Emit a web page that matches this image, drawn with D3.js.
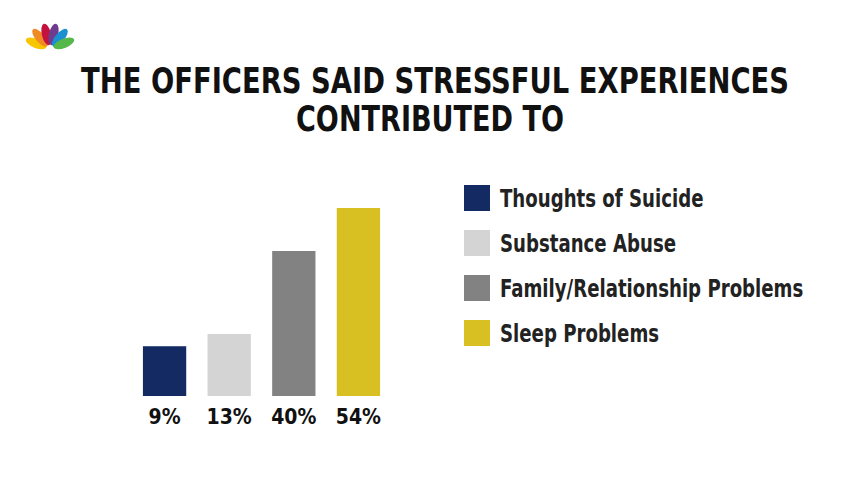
<!DOCTYPE html>
<html>
<head>
<meta charset="utf-8" />
<script src="https://cdn.jsdelivr.net/npm/d3@7"></script>
<style>
  body { margin: 0; background: #fff; }
  text { font-family: "DejaVu Sans Condensed", "DejaVu Sans", sans-serif; }
</style>
</head>
<body>
<script>
  var categories = ["Thoughts of Suicide", "Substance Abuse", "Family/Relationship Problems", "Sleep Problems"];
  var values = [9, 13, 40, 54];
  var colors = ["#132a63", "#d4d4d4", "#828282", "#d8bf22"];
  var titleLines = ["THE OFFICERS SAID STRESSFUL EXPERIENCES", "CONTRIBUTED TO"];

  var width = 850, height = 478;
  var svg = d3.select("body").append("svg")
      .attr("width", width).attr("height", height);

  // peacock logo
  var petals = ["#f7c600", "#f08a24", "#c4123f", "#6e3c8f", "#1b8fcf", "#55b848"];
  var logo = svg.append("g").attr("transform", "translate(50,49)");
  petals.forEach(function(c, i) {
    var a = -68 + i * 27.2;
    logo.append("ellipse")
        .attr("cx", 0).attr("cy", -15).attr("rx", 4.6).attr("ry", 11)
        .attr("fill", c)
        .attr("transform", "rotate(" + a + ")");
  });

  // title
  var title = svg.append("text")
      .attr("text-anchor", "middle")
      .attr("font-weight", "bold")
      .attr("font-size", 36)
      .attr("fill", "#111");
  title.append("tspan").attr("x", 435).attr("y", 93).attr("textLength", 708)
      .attr("lengthAdjust", "spacingAndGlyphs").text(titleLines[0]);
  title.append("tspan").attr("x", 430).attr("y", 131).attr("textLength", 268)
      .attr("lengthAdjust", "spacingAndGlyphs").text(titleLines[1]);

  // bars
  var x = d3.scaleBand().domain(categories).range([130, 393]).paddingInner(0.33).paddingOuter(0.2);
  var y = d3.scaleLinear().domain([-7.2, 54]).range([396, 208]);

  svg.selectAll(".bar").data(values).enter().append("rect")
      .attr("class", "bar")
      .attr("x", function(d, i) { return x(categories[i]); })
      .attr("width", x.bandwidth())
      .attr("y", function(d) { return y(d); })
      .attr("height", function(d) { return y(-7.2) - y(d); })
      .attr("fill", function(d, i) { return colors[i]; });

  svg.selectAll(".pct").data(values).enter().append("text")
      .attr("class", "pct")
      .attr("x", function(d, i) { return x(categories[i]) + x.bandwidth() / 2; })
      .attr("y", 424)
      .attr("text-anchor", "middle")
      .attr("font-weight", "bold")
      .attr("font-size", 21)
      .attr("fill", "#111")
      .text(function(d) { return d + "%"; });

  // legend
  var legend = svg.selectAll(".leg").data(categories).enter().append("g")
      .attr("class", "leg")
      .attr("transform", function(d, i) { return "translate(464," + (185 + i * 45) + ")"; });
  legend.append("rect").attr("width", 26).attr("height", 26)
      .attr("fill", function(d, i) { return colors[i]; });
  legend.append("text").attr("x", 36).attr("y", 22)
      .attr("font-weight", "bold").attr("font-size", 24).attr("fill", "#222")
      .text(function(d) { return d; })
      .each(function() {
        var w = this.getComputedTextLength();
        d3.select(this).attr("textLength", w * 0.84).attr("lengthAdjust", "spacingAndGlyphs");
      });
</script>
</body>
</html>
